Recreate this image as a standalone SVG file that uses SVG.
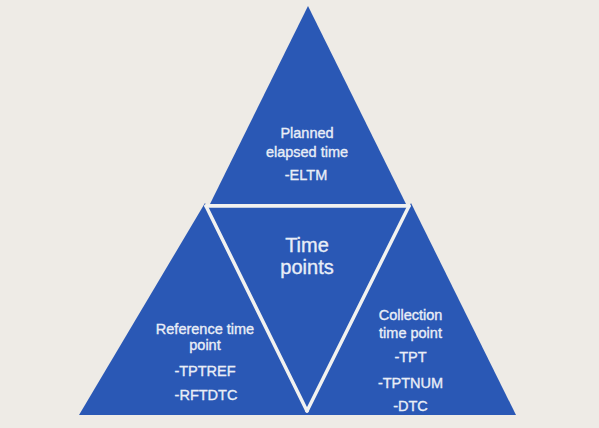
<svg xmlns="http://www.w3.org/2000/svg" width="599" height="428" viewBox="0 0 599 428">
<style>
.tri{fill:#2a58b5}
.sep{stroke:#f2f2f0;stroke-width:3.5;stroke-linecap:round;fill:none}
text{font-family:"Liberation Sans",Arial,sans-serif;fill:#e9eef7;stroke:#e9eef7;stroke-width:0.35;text-anchor:middle}
.s{font-size:14.5px}
.b{font-size:20px}
</style>
<rect width="599" height="428" fill="#eeebe6"/>
<g id="top"><polygon class="tri" points="308,6 406,204 210,204"/>
<text class="s" x="307" y="138">Planned</text>
<text class="s" x="307" y="157">elapsed time</text>
<text class="s" x="306" y="180">-ELTM</text></g>
<g id="left"><polygon class="tri" points="205,203 79,415 309,415"/>
<text class="s" x="205" y="334">Reference time</text>
<text class="s" x="205" y="350">point</text>
<text class="s" x="205" y="376">-TPTREF</text>
<text class="s" x="206" y="400">-RFTDTC</text></g>
<g id="right"><polygon class="tri" points="411,203 305,415 516,415"/>
<text class="s" x="410.5" y="320">Collection</text>
<text class="s" x="410.5" y="338">time point</text>
<text class="s" x="410.5" y="362">-TPT</text>
<text class="s" x="410.5" y="388">-TPTNUM</text>
<text class="s" x="410.5" y="411">-DTC</text></g>
<g id="center"><polygon class="tri" points="207,206 409,206 307,412"/>
<text class="b" x="307" y="252">Time</text>
<text class="b" x="307" y="274">points</text></g>
<g id="connectors">
<line class="sep" x1="206" y1="206" x2="409" y2="206"/>
<line class="sep" x1="206" y1="206" x2="307" y2="411"/>
<line class="sep" x1="409" y1="206" x2="307" y2="411"/>
</g>
</svg>
